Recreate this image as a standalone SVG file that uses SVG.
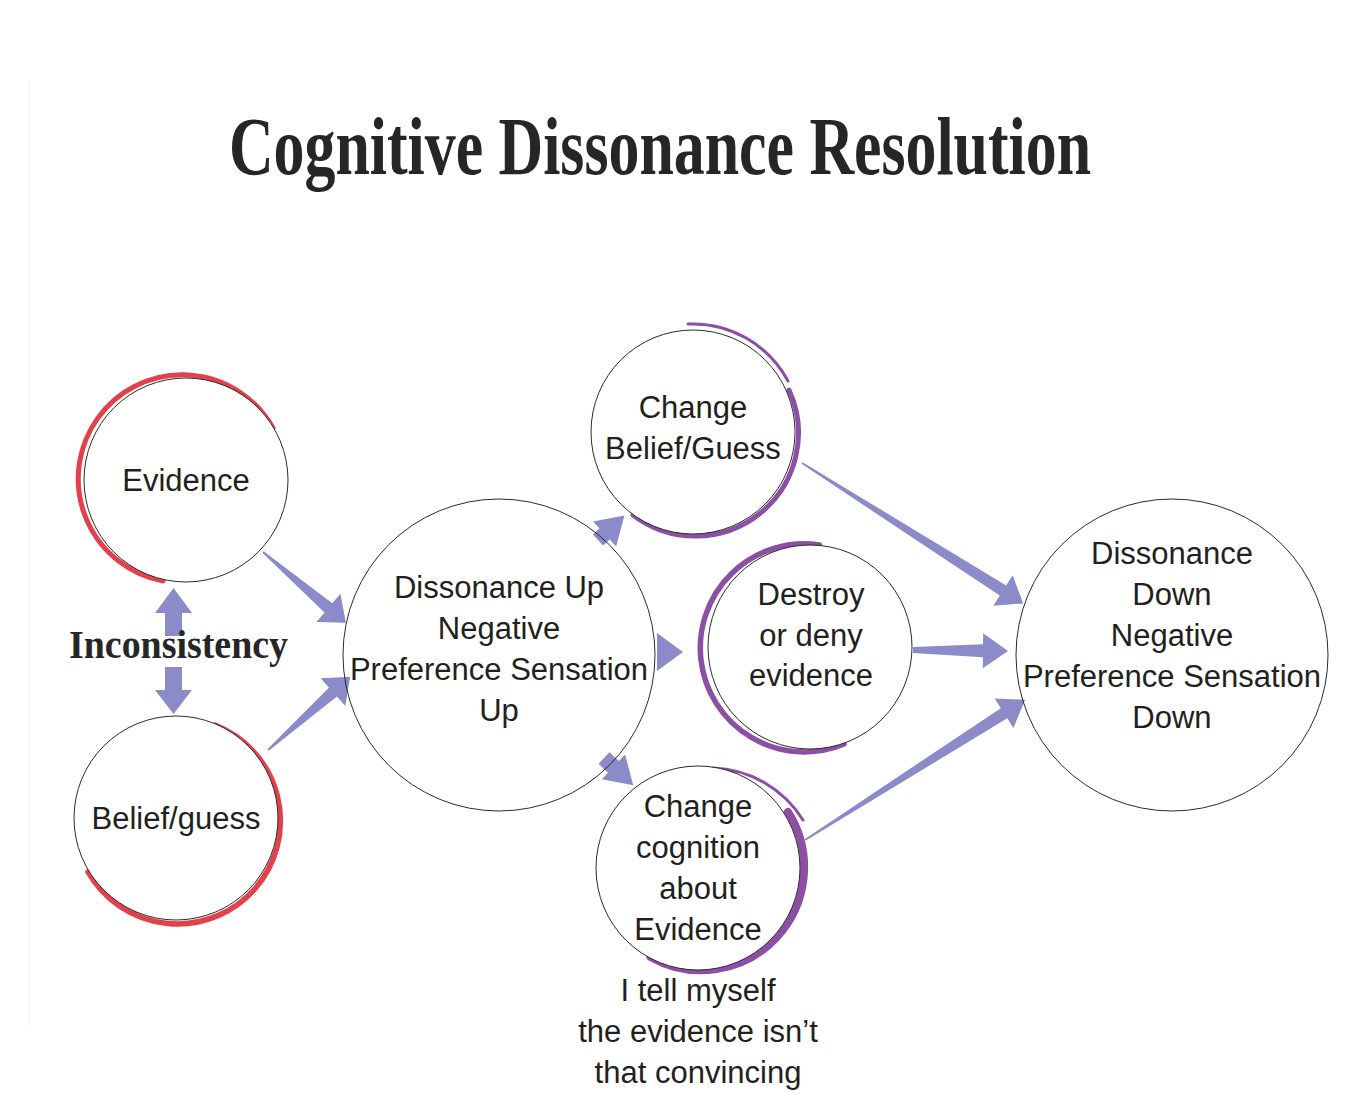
<svg xmlns="http://www.w3.org/2000/svg" width="1358" height="1118" viewBox="0 0 1358 1118">
  <style>
    .bg { fill: #ffffff; }
    .edge { fill: #f4f4f4; }
    .ring { fill: #ffffff; stroke: #2b2b2b; stroke-width: 1; }
    .ring-open { fill: none; stroke: #2b2b2b; stroke-width: 1; }
    .red { fill: none; stroke: #e3404c; stroke-linecap: round; }
    .violet { fill: none; stroke: #8c4fa4; stroke-linecap: round; }
    .arrow { fill: #8a8bc8; }
    .label { font-family: "Liberation Sans", Arial, sans-serif; font-size: 31px; fill: #231f20; text-anchor: middle; }
    .title { font-family: "Liberation Serif", "Times New Roman", serif; font-weight: bold; fill: #262626; text-anchor: middle; }
  </style>

  <rect class="bg" x="0" y="0" width="1358" height="1118"/>
  <rect class="edge" x="29" y="80" width="1" height="948"/>

  <!-- condensed heading: bold serif squeezed horizontally -->
  <g id="heading" transform="translate(660,174) scale(0.754,1)">
    <text class="title" x="0" y="0" font-size="82">Cognitive Dissonance Resolution</text>
  </g>

  <!-- connectors -->
  <g id="connectors">
    <path class="arrow" transform="translate(263,552) rotate(40.5)" d="M0,-1 L86,-6 L86,-18.5 L109,0 L86,18.5 L86,6 L0,1Z"/>
    <path class="arrow" transform="translate(268,750) rotate(-41.7)" d="M0,-1 L87,-6 L87,-18.5 L110,0 L87,18.5 L87,6 L0,1Z"/>
    <path class="arrow" transform="translate(598,540) rotate(-42.7)" d="M0,-7.5 L9,-7.5 L9,-17 L36,0 L9,17 L9,7.5 L0,7.5Z"/>
    <polygon class="arrow" points="657,633 683,652 657,671"/>
    <path class="arrow" transform="translate(604,758) rotate(43)" d="M0,-8 L13,-8 L13,-17 L40,0 L13,17 L13,8 L0,8Z"/>
    <path class="arrow" transform="translate(802,463) rotate(32.4)" d="M0,-1 L238,-6 L238,-18 L262,0 L238,18 L238,6 L0,1Z"/>
    <path class="arrow" transform="translate(913,650) rotate(0.6)" d="M0,-3 L70,-6.5 L70,-17.5 L95,0 L70,17.5 L70,6.5 L0,3Z"/>
    <path class="arrow" transform="translate(805,840) rotate(-32.5)" d="M0,-1 L236,-6 L236,-17.5 L261,0 L236,17.5 L236,6 L0,1Z"/>
    <!-- inconsistency double arrow -->
    <polygon class="arrow" points="173.5,588 155,613 165,613 165,636 182,636 182,613 192,613"/>
    <polygon class="arrow" points="165,667 182,667 182,690 192,690 173.5,714 155,690 165,690"/>
  </g>

  <g id="inconsistency">
    <text class="title" x="178.5" y="658" font-size="39" textLength="219" lengthAdjust="spacingAndGlyphs">Inconsistency</text>
  </g>

  <g id="evidence">
    <path class="red" stroke-width="5" d="M273,428 A104,104 0 1 0 163,581"/>
    <circle class="ring" cx="186" cy="480" r="102"/>
    <text class="label" x="186" y="491">Evidence</text>
  </g>

  <g id="belief">
    <path class="red" stroke-width="5.5" d="M215,725 A103,103 0 1 1 88,872"/>
    <circle class="ring" cx="176" cy="818" r="102"/>
    <text class="label" x="176" y="829">Belief/guess</text>
  </g>

  <g id="dissonance-up">
    <circle class="ring-open" cx="499" cy="655" r="156"/>
    <text class="label" x="499" y="598">Dissonance Up</text>
    <text class="label" x="499" y="639">Negative</text>
    <text class="label" x="499" y="680">Preference Sensation</text>
    <text class="label" x="499" y="721">Up</text>
  </g>

  <g id="change-belief">
    <path class="violet" stroke-width="3" d="M688,324 A108,108 0 0 1 788,381"/>
    <path class="violet" stroke-width="5" d="M789,390 A103,103 0 0 1 633,515"/>
    <circle class="ring" cx="693" cy="432" r="102"/>
    <text class="label" x="693" y="418">Change</text>
    <text class="label" x="693" y="459">Belief/Guess</text>
  </g>

  <g id="destroy">
    <path class="violet" stroke-width="5.5" d="M819.5,545 A104,104 0 1 0 844,744"/>
    <circle class="ring" cx="810" cy="647" r="102"/>
    <text class="label" x="811" y="605">Destroy</text>
    <text class="label" x="811" y="646">or deny</text>
    <text class="label" x="811" y="686">evidence</text>
  </g>

  <g id="change-cognition">
    <path class="violet" stroke-width="3" d="M713,768 A110,110 0 0 1 803,820"/>
    <path class="violet" stroke-width="8" stroke-linecap="butt" d="M788,812 A103,103 0 0 1 650.5,957"/>
    <circle class="ring" cx="698" cy="868" r="102"/>
    <text class="label" x="698" y="817">Change</text>
    <text class="label" x="698" y="858">cognition</text>
    <text class="label" x="698" y="899">about</text>
    <text class="label" x="698" y="940">Evidence</text>
    <text class="label" x="698" y="1001">I tell myself</text>
    <text class="label" x="698" y="1042">the evidence isn’t</text>
    <text class="label" x="698" y="1083">that convincing</text>
  </g>

  <g id="dissonance-down">
    <circle class="ring-open" cx="1172" cy="655" r="156"/>
    <text class="label" x="1172" y="564">Dissonance</text>
    <text class="label" x="1172" y="605">Down</text>
    <text class="label" x="1172" y="646">Negative</text>
    <text class="label" x="1172" y="687">Preference Sensation</text>
    <text class="label" x="1172" y="728">Down</text>
  </g>
</svg>
